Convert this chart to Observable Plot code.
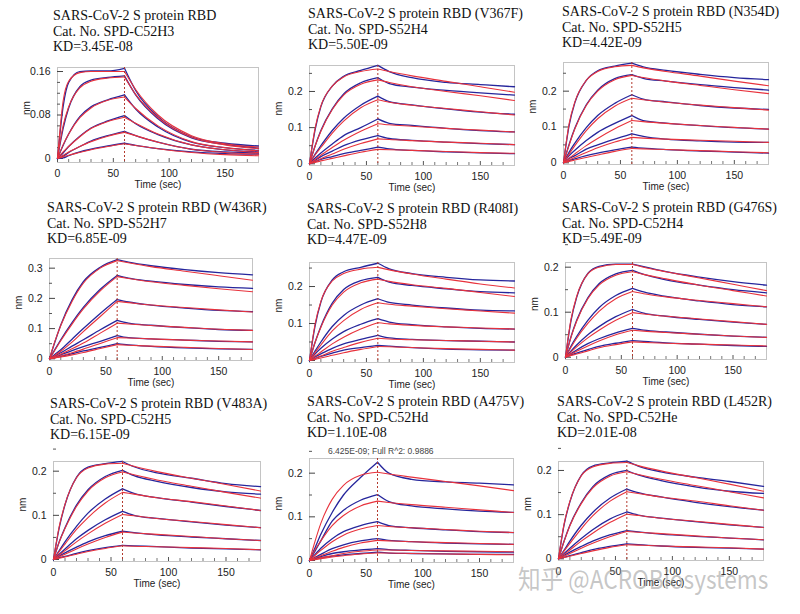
<!DOCTYPE html>
<html><head><meta charset="utf-8">
<script src="https://cdn.jsdelivr.net/npm/d3@7"></script>
<script src="https://cdn.jsdelivr.net/npm/@observablehq/plot@0.6"></script>
<style>
html,body{margin:0;padding:0;background:#fff}
body{width:800px;height:614px;position:relative;overflow:hidden}
.title{position:absolute;font-family:"Liberation Serif","Times New Roman",serif;font-size:14px;line-height:15.5px;color:#111;white-space:nowrap}
.panel{position:absolute}
.panel svg{max-width:none!important;overflow:visible}
.fitnote{position:absolute;font-family:"Liberation Sans",Arial,sans-serif;font-size:8.5px;color:#444;white-space:nowrap}
.wm{position:absolute;font-family:"Noto Sans CJK SC","Noto Sans",sans-serif;font-size:26px;line-height:34px;color:rgba(150,150,150,0.55);white-space:nowrap;transform:scaleX(0.87);transform-origin:0 0}
</style></head><body>
<script>
// ---------- data ----------
const times = [0, 5, 10, 20, 30, 45, 60, 70, 90, 120, 150, 180];

const antigenNames = [
  "SARS-CoV-2 S protein RBD",
  "SARS-CoV-2 S protein RBD (V367F)",
  "SARS-CoV-2 S protein RBD (N354D)",
  "SARS-CoV-2 S protein RBD (W436R)",
  "SARS-CoV-2 S protein RBD (R408I)",
  "SARS-CoV-2 S protein RBD (G476S)",
  "SARS-CoV-2 S protein RBD (V483A)",
  "SARS-CoV-2 S protein RBD (A475V)",
  "SARS-CoV-2 S protein RBD (L452R)"
];
const catNos = [
  "Cat. No. SPD-C52H3", "Cat. No. SPD-S52H4", "Cat. No. SPD-S52H5",
  "Cat. No. SPD-S52H7", "Cat. No. SPD-S52H8", "Cat. No. SPD-C52H4",
  "Cat. No. SPD-C52H5", "Cat. No. SPD-C52Hd", "Cat. No. SPD-C52He"
];
const kdValues = [
  "KD=3.45E-08", "KD=5.50E-09", "KD=4.42E-09",
  "KD=6.85E-09", "KD=4.47E-09", "KD=5.49E-09",
  "KD=6.15E-09", "KD=1.10E-08", "KD=2.01E-08"
];
const fitNote = "6.425E-09; Full R^2: 0.9886";
const watermark = "知乎 @ACROBiosystems";

// fitted curves (red) and measured traces (blue), nm, one row per concentration
const fitC52H3 = [
  [0,0.105,0.142,0.158,0.160,0.160,0.160,0.127,0.080,0.042,0.027,0.021],
  [0,0.060,0.095,0.130,0.142,0.148,0.150,0.118,0.075,0.039,0.025,0.018],
  [0,0.025,0.045,0.075,0.093,0.107,0.113,0.092,0.060,0.031,0.020,0.014],
  [0,0.012,0.022,0.040,0.055,0.068,0.076,0.065,0.045,0.025,0.016,0.011],
  [0,0.006,0.012,0.022,0.031,0.041,0.048,0.042,0.030,0.017,0.011,0.008],
  [0,0.003,0.006,0.011,0.016,0.022,0.027,0.024,0.018,0.011,0.007,0.005]
];
const obsC52H3 = [
  [0,0.095,0.140,0.160,0.161,0.161,0.166,0.125,0.077,0.040,0.028,0.023],
  [0,0.055,0.093,0.132,0.144,0.149,0.152,0.117,0.073,0.038,0.026,0.019],
  [0,0.024,0.045,0.077,0.095,0.108,0.117,0.091,0.058,0.030,0.020,0.015],
  [0,0.010,0.022,0.041,0.056,0.069,0.079,0.064,0.044,0.025,0.016,0.012],
  [0,0.004,0.011,0.022,0.032,0.042,0.050,0.042,0.030,0.017,0.012,0.010],
  [0,0.001,0.005,0.012,0.017,0.023,0.028,0.024,0.018,0.012,0.009,0.008]
];
const fitS52H4 = [
  [0,0.100,0.160,0.215,0.240,0.255,0.262,0.255,0.243,0.228,0.213,0.198],
  [0,0.050,0.090,0.150,0.190,0.220,0.232,0.225,0.213,0.200,0.188,0.175],
  [0,0.025,0.045,0.085,0.118,0.155,0.177,0.170,0.162,0.153,0.144,0.135],
  [0,0.012,0.024,0.045,0.065,0.090,0.111,0.108,0.104,0.098,0.093,0.088],
  [0,0.007,0.014,0.027,0.040,0.056,0.069,0.067,0.064,0.060,0.057,0.053],
  [0,0.004,0.008,0.015,0.022,0.032,0.040,0.039,0.037,0.034,0.031,0.029]
];
const obsS52H4 = [
  [0,0.095,0.158,0.215,0.242,0.258,0.272,0.255,0.238,0.225,0.219,0.213],
  [0,0.050,0.092,0.152,0.193,0.224,0.238,0.222,0.212,0.203,0.196,0.190],
  [0,0.027,0.050,0.092,0.126,0.162,0.187,0.172,0.163,0.152,0.143,0.137],
  [0,0.016,0.030,0.055,0.078,0.100,0.124,0.112,0.106,0.098,0.092,0.088],
  [0,0.010,0.020,0.035,0.050,0.066,0.078,0.070,0.065,0.060,0.056,0.053],
  [0,0.006,0.012,0.020,0.028,0.037,0.046,0.041,0.037,0.033,0.030,0.028]
];
const fitS52H5 = [
  [0,0.110,0.170,0.230,0.255,0.268,0.272,0.265,0.255,0.242,0.228,0.215],
  [0,0.050,0.095,0.160,0.200,0.232,0.244,0.238,0.228,0.216,0.204,0.193],
  [0,0.025,0.048,0.090,0.123,0.158,0.180,0.176,0.169,0.161,0.154,0.147],
  [0,0.013,0.025,0.048,0.068,0.095,0.118,0.115,0.110,0.104,0.099,0.094],
  [0,0.008,0.015,0.029,0.042,0.058,0.071,0.069,0.066,0.063,0.060,0.057],
  [0,0.004,0.008,0.015,0.022,0.032,0.040,0.039,0.037,0.034,0.031,0.028]
];
const obsS52H5 = [
  [0,0.105,0.168,0.230,0.257,0.270,0.278,0.268,0.258,0.247,0.238,0.232],
  [0,0.052,0.097,0.162,0.203,0.235,0.246,0.236,0.228,0.218,0.210,0.203],
  [0,0.030,0.055,0.098,0.132,0.166,0.190,0.178,0.170,0.160,0.153,0.149],
  [0,0.020,0.035,0.062,0.085,0.110,0.132,0.118,0.111,0.104,0.098,0.094],
  [0,0.012,0.020,0.038,0.050,0.066,0.081,0.074,0.066,0.061,0.058,0.057],
  [0,0.006,0.011,0.020,0.027,0.036,0.044,0.041,0.037,0.033,0.030,0.027]
];
const fitS52H7 = [
  [0,0.060,0.110,0.190,0.250,0.300,0.325,0.318,0.305,0.290,0.275,0.260],
  [0,0.030,0.060,0.115,0.165,0.225,0.272,0.266,0.255,0.243,0.232,0.222],
  [0,0.012,0.025,0.055,0.090,0.140,0.190,0.186,0.178,0.170,0.162,0.155],
  [0,0.007,0.015,0.033,0.052,0.085,0.118,0.115,0.110,0.104,0.098,0.094],
  [0,0.004,0.009,0.020,0.032,0.051,0.070,0.069,0.066,0.062,0.059,0.056],
  [0,0.003,0.006,0.013,0.021,0.034,0.047,0.045,0.042,0.038,0.034,0.031]
];
const obsS52H7 = [
  [0,0.058,0.112,0.195,0.255,0.303,0.328,0.320,0.308,0.295,0.285,0.278],
  [0,0.032,0.063,0.120,0.170,0.230,0.276,0.267,0.257,0.246,0.238,0.233],
  [0,0.015,0.030,0.065,0.100,0.150,0.196,0.188,0.178,0.168,0.160,0.156],
  [0,0.010,0.020,0.042,0.063,0.096,0.127,0.118,0.111,0.103,0.097,0.094],
  [0,0.006,0.013,0.027,0.040,0.058,0.077,0.070,0.066,0.062,0.058,0.056],
  [0,0.004,0.008,0.017,0.026,0.038,0.050,0.046,0.041,0.036,0.033,0.031]
];
const fitS52H8 = [
  [0,0.100,0.160,0.215,0.235,0.247,0.252,0.245,0.234,0.220,0.207,0.196],
  [0,0.050,0.090,0.150,0.185,0.210,0.220,0.214,0.205,0.195,0.184,0.173],
  [0,0.022,0.042,0.080,0.108,0.138,0.156,0.152,0.147,0.140,0.134,0.128],
  [0,0.012,0.023,0.045,0.063,0.085,0.102,0.099,0.095,0.091,0.088,0.085],
  [0,0.006,0.012,0.025,0.035,0.049,0.060,0.058,0.056,0.054,0.052,0.050],
  [0,0.003,0.007,0.014,0.021,0.030,0.038,0.037,0.035,0.032,0.030,0.028]
];
const obsS52H8 = [
  [0,0.095,0.158,0.218,0.240,0.252,0.263,0.248,0.235,0.225,0.218,0.215],
  [0,0.050,0.092,0.155,0.192,0.216,0.225,0.212,0.203,0.194,0.186,0.183],
  [0,0.026,0.050,0.092,0.122,0.150,0.167,0.157,0.150,0.142,0.136,0.134],
  [0,0.018,0.033,0.058,0.078,0.098,0.113,0.104,0.097,0.091,0.087,0.085],
  [0,0.010,0.018,0.033,0.045,0.057,0.068,0.061,0.057,0.054,0.052,0.050],
  [0,0.006,0.011,0.020,0.028,0.035,0.041,0.039,0.035,0.031,0.029,0.028]
];
const fitC52H4 = [
  [0,0.085,0.135,0.185,0.200,0.206,0.206,0.200,0.190,0.176,0.162,0.148],
  [0,0.045,0.080,0.130,0.160,0.182,0.190,0.184,0.174,0.160,0.148,0.136],
  [0,0.022,0.042,0.075,0.102,0.130,0.146,0.141,0.134,0.126,0.119,0.112],
  [0,0.012,0.023,0.043,0.060,0.082,0.099,0.096,0.091,0.085,0.079,0.073],
  [0,0.007,0.013,0.025,0.036,0.050,0.060,0.058,0.055,0.051,0.047,0.044],
  [0,0.004,0.007,0.014,0.021,0.028,0.034,0.033,0.031,0.029,0.027,0.025]
];
const obsC52H4 = [
  [0,0.082,0.133,0.186,0.202,0.207,0.207,0.201,0.190,0.178,0.168,0.160],
  [0,0.046,0.082,0.132,0.163,0.185,0.193,0.184,0.172,0.160,0.150,0.143],
  [0,0.025,0.046,0.082,0.110,0.137,0.153,0.145,0.135,0.125,0.117,0.112],
  [0,0.014,0.027,0.050,0.068,0.090,0.106,0.098,0.091,0.084,0.078,0.073],
  [0,0.008,0.016,0.030,0.041,0.054,0.064,0.060,0.056,0.051,0.047,0.044],
  [0,0.005,0.009,0.017,0.024,0.031,0.037,0.035,0.032,0.029,0.026,0.024]
];
const fitC52H5 = [
  [0,0.075,0.125,0.185,0.207,0.216,0.218,0.211,0.199,0.184,0.170,0.155],
  [0,0.040,0.070,0.120,0.155,0.185,0.198,0.192,0.180,0.166,0.152,0.139],
  [0,0.018,0.035,0.068,0.095,0.128,0.152,0.148,0.140,0.131,0.121,0.111],
  [0,0.010,0.020,0.040,0.058,0.082,0.102,0.099,0.093,0.086,0.079,0.072],
  [0,0.006,0.012,0.024,0.035,0.050,0.062,0.060,0.057,0.052,0.047,0.043],
  [0,0.003,0.006,0.012,0.018,0.025,0.031,0.030,0.029,0.027,0.025,0.022]
];
const obsC52H5 = [
  [0,0.072,0.124,0.186,0.209,0.217,0.222,0.210,0.196,0.184,0.172,0.165],
  [0,0.040,0.072,0.123,0.158,0.188,0.202,0.190,0.177,0.163,0.153,0.148],
  [0,0.020,0.040,0.075,0.105,0.137,0.160,0.150,0.140,0.130,0.120,0.111],
  [0,0.012,0.024,0.047,0.066,0.090,0.109,0.100,0.093,0.085,0.078,0.072],
  [0,0.008,0.015,0.028,0.040,0.054,0.064,0.061,0.056,0.051,0.047,0.043],
  [0,0.004,0.007,0.014,0.020,0.027,0.032,0.031,0.029,0.026,0.024,0.022]
];
const fitC52Hd = [
  [0,0.045,0.085,0.140,0.172,0.195,0.202,0.198,0.191,0.181,0.171,0.160],
  [0,0.025,0.045,0.080,0.103,0.125,0.136,0.133,0.128,0.122,0.116,0.110],
  [0,0.012,0.023,0.043,0.058,0.072,0.080,0.078,0.075,0.071,0.067,0.064],
  [0,0.006,0.011,0.021,0.030,0.040,0.046,0.045,0.043,0.041,0.039,0.037],
  [0,0.003,0.006,0.011,0.016,0.021,0.024,0.024,0.023,0.022,0.021,0.020],
  [0,0.002,0.004,0.008,0.011,0.015,0.017,0.017,0.016,0.015,0.014,0.013]
];
const obsC52Hd = [
  [0,0.030,0.060,0.110,0.150,0.190,0.225,0.200,0.186,0.180,0.177,0.173],
  [0,0.022,0.045,0.090,0.115,0.138,0.151,0.135,0.125,0.118,0.113,0.110],
  [0,0.014,0.028,0.050,0.066,0.080,0.089,0.080,0.075,0.070,0.066,0.064],
  [0,0.007,0.014,0.027,0.036,0.045,0.050,0.046,0.043,0.040,0.038,0.037],
  [0,0.005,0.009,0.016,0.020,0.024,0.027,0.025,0.023,0.021,0.020,0.019],
  [0,0.003,0.006,0.010,0.013,0.016,0.019,0.017,0.016,0.015,0.014,0.014]
];
const fitC52He = [
  [0,0.080,0.130,0.188,0.208,0.216,0.218,0.211,0.199,0.184,0.169,0.153],
  [0,0.040,0.075,0.125,0.160,0.187,0.197,0.191,0.180,0.166,0.152,0.138],
  [0,0.018,0.035,0.068,0.097,0.130,0.152,0.148,0.140,0.131,0.120,0.110],
  [0,0.010,0.020,0.040,0.058,0.082,0.101,0.098,0.092,0.085,0.078,0.071],
  [0,0.006,0.012,0.024,0.035,0.050,0.062,0.060,0.057,0.052,0.047,0.043],
  [0,0.003,0.006,0.012,0.018,0.026,0.032,0.031,0.029,0.027,0.025,0.022]
];
const obsC52He = [
  [0,0.078,0.129,0.189,0.210,0.217,0.221,0.210,0.197,0.185,0.175,0.164],
  [0,0.041,0.076,0.127,0.163,0.190,0.200,0.190,0.177,0.163,0.153,0.148],
  [0,0.020,0.040,0.076,0.105,0.137,0.158,0.150,0.140,0.128,0.118,0.110],
  [0,0.012,0.024,0.046,0.066,0.090,0.106,0.099,0.092,0.084,0.077,0.071],
  [0,0.008,0.015,0.028,0.040,0.054,0.064,0.061,0.056,0.051,0.047,0.043],
  [0,0.004,0.007,0.014,0.021,0.028,0.034,0.032,0.029,0.026,0.024,0.022]
];

const fitSets = [fitC52H3, fitS52H4, fitS52H5, fitS52H7, fitS52H8, fitC52H4, fitC52H5, fitC52Hd, fitC52He];
const obsSets = [obsC52H3, obsS52H4, obsS52H5, obsS52H7, obsS52H8, obsC52H4, obsC52H5, obsC52Hd, obsC52He];

const injectionEnd = 60;
const xTickLabels = [0, 50, 100, 150];
const xMinorTicks = [10, 20, 30, 40, 60, 70, 80, 90, 110, 120, 130, 140, 160, 170];
const yTicksSmall = [0, 0.08, 0.16];
const yMinorSmall = [0.02, 0.04, 0.06, 0.10, 0.12, 0.14];
const yTicksMid = [0, 0.1, 0.2];
const yMinorMid = [0.05, 0.15, 0.25];
const yTicksLarge = [0, 0.1, 0.2, 0.3];
const yMinorLarge = [0.05, 0.15, 0.25];

// ---------- layout (pixel geometry of each panel) ----------
const layout = [
  {L:57,  R:258, T:67,  B:162, yd:[-0.0074,0.1674], yt:yTicksSmall, ym:yMinorSmall, tx:53,  ty:8},
  {L:309, R:514, T:65,  B:165, yd:[-0.0047,0.2718], yt:yTicksMid,   ym:yMinorMid,   tx:308, ty:6},
  {L:563, R:768, T:62,  B:164, yd:[-0.0047,0.2800], yt:yTicksMid,   ym:yMinorMid,   tx:562, ty:4},
  {L:49,  R:252, T:258, B:360, yd:[-0.0056,0.3320], yt:yTicksLarge, ym:yMinorLarge, tx:47,  ty:200},
  {L:309, R:514, T:262, B:362, yd:[-0.0054,0.2650], yt:yTicksMid,   ym:yMinorMid,   tx:307, ty:201},
  {L:565, R:766, T:262, B:359, yd:[-0.0051,0.2104], yt:yTicksMid,   ym:yMinorMid,   tx:562, ty:200},
  {L:53,  R:260, T:461, B:561, yd:[-0.0045,0.2219], yt:yTicksMid,   ym:yMinorMid,   tx:50,  ty:396},
  {L:309, R:513, T:458, B:562, yd:[-0.0046,0.2336], yt:yTicksMid,   ym:yMinorMid,   tx:307, ty:394},
  {L:558, R:763, T:461, B:560, yd:[-0.0038,0.2203], yt:yTicksMid,   ym:yMinorMid,   tx:557, ty:394}
];

function toRows(series, kind) {
  const out = [];
  series.forEach((vals, ci) => {
    vals.forEach((v, i) => {
      const t = times[i];
      if (t <= injectionEnd) out.push({t, v, key: kind + ci + "a"});
      if (t >= injectionEnd) out.push({t, v, key: kind + ci + "d"});
    });
  });
  return out;
}

const ml = 46, mr = 4, mt = 4, mb = 34;
layout.forEach((g, k) => {
  const title = document.createElement("div");
  title.className = "title";
  title.style.left = g.tx + "px";
  title.style.top = g.ty + "px";
  title.innerHTML = antigenNames[k] + "<br>" + catNos[k] + "<br>" + kdValues[k];
  document.body.appendChild(title);

  const fw = g.R - g.L, fh = g.B - g.T;
  const chart = Plot.plot({
    width: fw + ml + mr, height: fh + mt + mb,
    marginLeft: ml, marginRight: mr, marginTop: mt, marginBottom: mb,
    x: {domain: [0, 180]},
    y: {domain: g.yd},
    style: {background: "transparent", fontFamily: "'Liberation Sans', Arial, sans-serif", fontSize: "10.5px", color: "#222", overflow: "visible"},
    marks: [
      Plot.frame({stroke: "#c4c4c4"}),
      Plot.ruleY(g.ym, {y: d => d, stroke: "#555", insetRight: fw - 3}),
      Plot.ruleY(g.yt, {y: d => d, stroke: "#444", insetRight: fw - 6}),
      Plot.ruleX(xMinorTicks, {x: d => d, stroke: "#777", insetTop: fh - 3}),
      Plot.ruleX(xTickLabels, {x: d => d, stroke: "#555", insetTop: fh - 4}),
      Plot.axisY({ticks: g.yt, tickSize: 0, tickPadding: 7, tickFormat: d => String(d), label: null}),
      Plot.axisX({ticks: xTickLabels, tickSize: 0, tickPadding: 7, tickFormat: d => String(d), label: null}),
      Plot.text(["nm"], {text: d => d, frameAnchor: "left", dx: -31, rotate: -90, fontSize: 10}),
      Plot.text(["Time (sec)"], {text: d => d, frameAnchor: "bottom", dy: 25, fontSize: 10}),
      Plot.line(toRows(obsSets[k], "o"), {x: "t", y: "v", z: "key", stroke: "#26269c", strokeWidth: 1.3, curve: "monotone-x"}),
      Plot.line(toRows(fitSets[k], "f"), {x: "t", y: "v", z: "key", stroke: "#e8323c", strokeWidth: 1.1, curve: "monotone-x"}),
      Plot.ruleX([injectionEnd], {x: d => d, stroke: "#b33a2e", strokeWidth: 1, strokeDasharray: "2,2"})
    ]
  });
  const wrap = document.createElement("div");
  wrap.className = "panel";
  wrap.style.left = (g.L - ml) + "px";
  wrap.style.top = (g.T - mt) + "px";
  wrap.appendChild(chart);
  document.body.appendChild(wrap);
});

const note = document.createElement("div");
note.className = "fitnote";
note.style.left = "328px";
note.style.top = "446px";
note.textContent = fitNote;
document.body.appendChild(note);

const wm = document.createElement("div");
wm.className = "wm";
wm.style.left = "518px";
wm.style.top = "561px";
wm.textContent = watermark;
document.body.appendChild(wm);
</script>
</body></html>
